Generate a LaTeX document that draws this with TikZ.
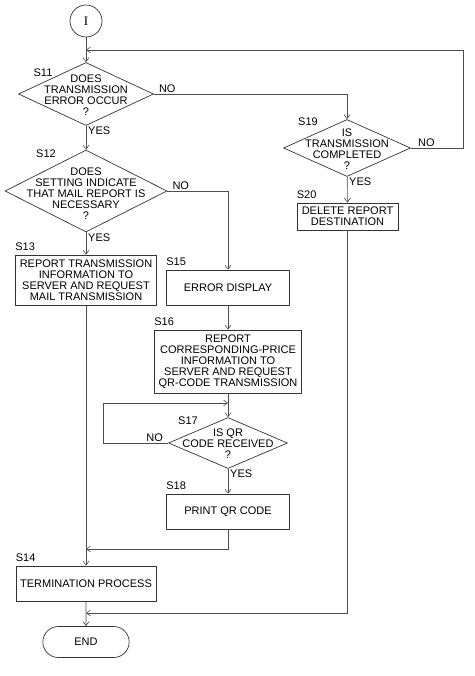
\documentclass[tikz,border=0pt]{standalone}
\usepackage{fontspec}
\setmainfont{Liberation Sans}
\newfontfamily\serifI{Liberation Serif}
\usepackage{tikz}
\usetikzlibrary{shapes,calc}
\usetikzlibrary{shapes.geometric,shapes.misc}
\usetikzlibrary{positioning}
\usetikzlibrary{arrows.meta}

\begin{document}
\begin{tikzpicture}[x=1pt,y=-1pt,
	font=\fontsize{11}{11}\selectfont,
	box/.style={draw=black!80,line width=0.7pt,rectangle,align=center,inner sep=0pt},
	ask/.style={draw=black!80,line width=0.7pt,diamond,inner sep=0pt},
	asktext/.style={align=center,inner sep=0pt},
	tag/.style={inner sep=1pt},
	flow/.style={draw=black!70,line width=0.6pt,-{Straight Barb[length=4pt,width=6pt]}}]
	
	\useasboundingbox (0,0) rectangle (474,676);
	
	% start and end
	\node[draw=black!80,line width=0.7pt,circle,minimum size=32pt,inner sep=0pt] (start) at (86,21) {\serifI\fontsize{13}{13}\selectfont I};
	\node[draw=black!80,line width=0.7pt,rounded rectangle,minimum width=93pt,minimum height=31pt] (end) at (86,642) {END};
	
	% decisions
	\node[ask,minimum width=135pt,minimum height=63pt] (s11) at (86,94) {};
	\node[asktext] (s11t) at (86,95) {DOES\\TRANSMISSION\\ERROR OCCUR\\?};
	\node[ask,minimum width=162pt,minimum height=82pt] (s12) at (86,191) {};
	\node[asktext] (s12t) at (86,194) {DOES\\SETTING INDICATE\\THAT MAIL REPORT IS\\NECESSARY\\?};
	\node[ask,minimum width=127pt,minimum height=57pt] (s19) at (347,148) {};
	\node[asktext] (s19t) at (347,149) {IS\\TRANSMISSION\\COMPLETED\\?};
	\node[ask,minimum width=119pt,minimum height=51pt] (s17) at (228,443) {};
	\node[asktext] (s17t) at (228,444) {IS QR\\CODE RECEIVED\\?};
	
	% process boxes
	\node[box,minimum width=141pt,minimum height=50pt] (s13) at (86,280) {REPORT TRANSMISSION\\INFORMATION TO\\SERVER AND REQUEST\\MAIL TRANSMISSION};
	\node[box,minimum width=123pt,minimum height=35pt] (s15) at (228,287.5) {ERROR DISPLAY};
	\node[box,minimum width=147pt,minimum height=63pt] (s16) at (228,361.5) {REPORT\\CORRESPONDING-PRICE\\INFORMATION TO\\SERVER AND REQUEST\\QR-CODE TRANSMISSION};
	\node[box,minimum width=123pt,minimum height=35pt] (s18) at (228,511.5) {PRINT QR CODE};
	\node[box,minimum width=140pt,minimum height=35pt] (s14) at (86,583.5) {TERMINATION PROCESS};
	\node[box,minimum width=101pt,minimum height=27pt] (s20) at (347.5,216.5) {DELETE REPORT\\DESTINATION};
	
	% step numbers
	\node[tag] (l11) at (43,73) {S11};
	\node[tag] (l12) at (46,154) {S12};
	\node[tag] (l19) at (308,122) {S19};
	\node[tag] (l17) at (188,421) {S17};
	\node[tag,above right=3pt and -1pt of s13.north west] (l13) {S13};
	\node[tag,above right=3pt and -1pt of s15.north west] (l15) {S15};
	\node[tag,above right=3pt and -1pt of s16.north west] (l16) {S16};
	\node[tag,above right=3pt and -1pt of s18.north west] (l18) {S18};
	\node[tag,above right=3pt and -1pt of s14.north west] (l14) {S14};
	\node[tag,above right=3pt and -1pt of s20.north west] (l20) {S20};
	
	% yes / no
	\node[tag,above right=0pt and 4pt of s11.east] (n11) {NO};
	\node[tag,above right=0pt and 4pt of s12.east] (n12) {NO};
	\node[tag,above right=0pt and 6pt of s19.east] (n19) {NO};
	\node[tag,above left=0pt and 4pt of s17.west] (n17) {NO};
	\node[tag,below right=0pt and 1pt of s11.south] (y11) {YES};
	\node[tag,below right=0pt and 1pt of s12.south] (y12) {YES};
	\node[tag,below right=0pt and 1pt of s19.south] (y19) {YES};
	\node[tag,below right=0pt and 1pt of s17.south] (y17) {YES};
	
	% join points
	\coordinate (m1) at (86,50);
	\coordinate (k19) at (463,50);
	\coordinate (k17) at (103,403);
	\coordinate (j3) at (228,403);
	\coordinate (j1) at (86,549);
	\coordinate (j2) at (86,613);
	
	% main column
	\draw[flow] (start) -- (s11);
	\draw[flow] (s11) -- (s12);
	\draw[flow] (s12) -- (s13);
	\draw[flow] (s13) -- (s14);
	\draw[flow] (s14) -- (end);
	
	% error branch
	\draw[flow] (s12.east) -| (s15.north);
	\draw[flow] (s15) -- (s16);
	\draw[flow] (s16) -- (s17);
	\draw[flow] (s17.west) -| (k17) -- (j3);
	\draw[flow] (s17) -- (s18);
	\draw[flow] (s18.south) |- (j1);
	
	% no error branch
	\draw[flow] (s11.east) -| (s19.north);
	\draw[flow] (s19.east) -| (k19) -- (m1);
	\draw[flow] (s19) -- (s20);
	\draw[flow] (s20.south) |- (j2);
	
\end{tikzpicture}
\end{document}
